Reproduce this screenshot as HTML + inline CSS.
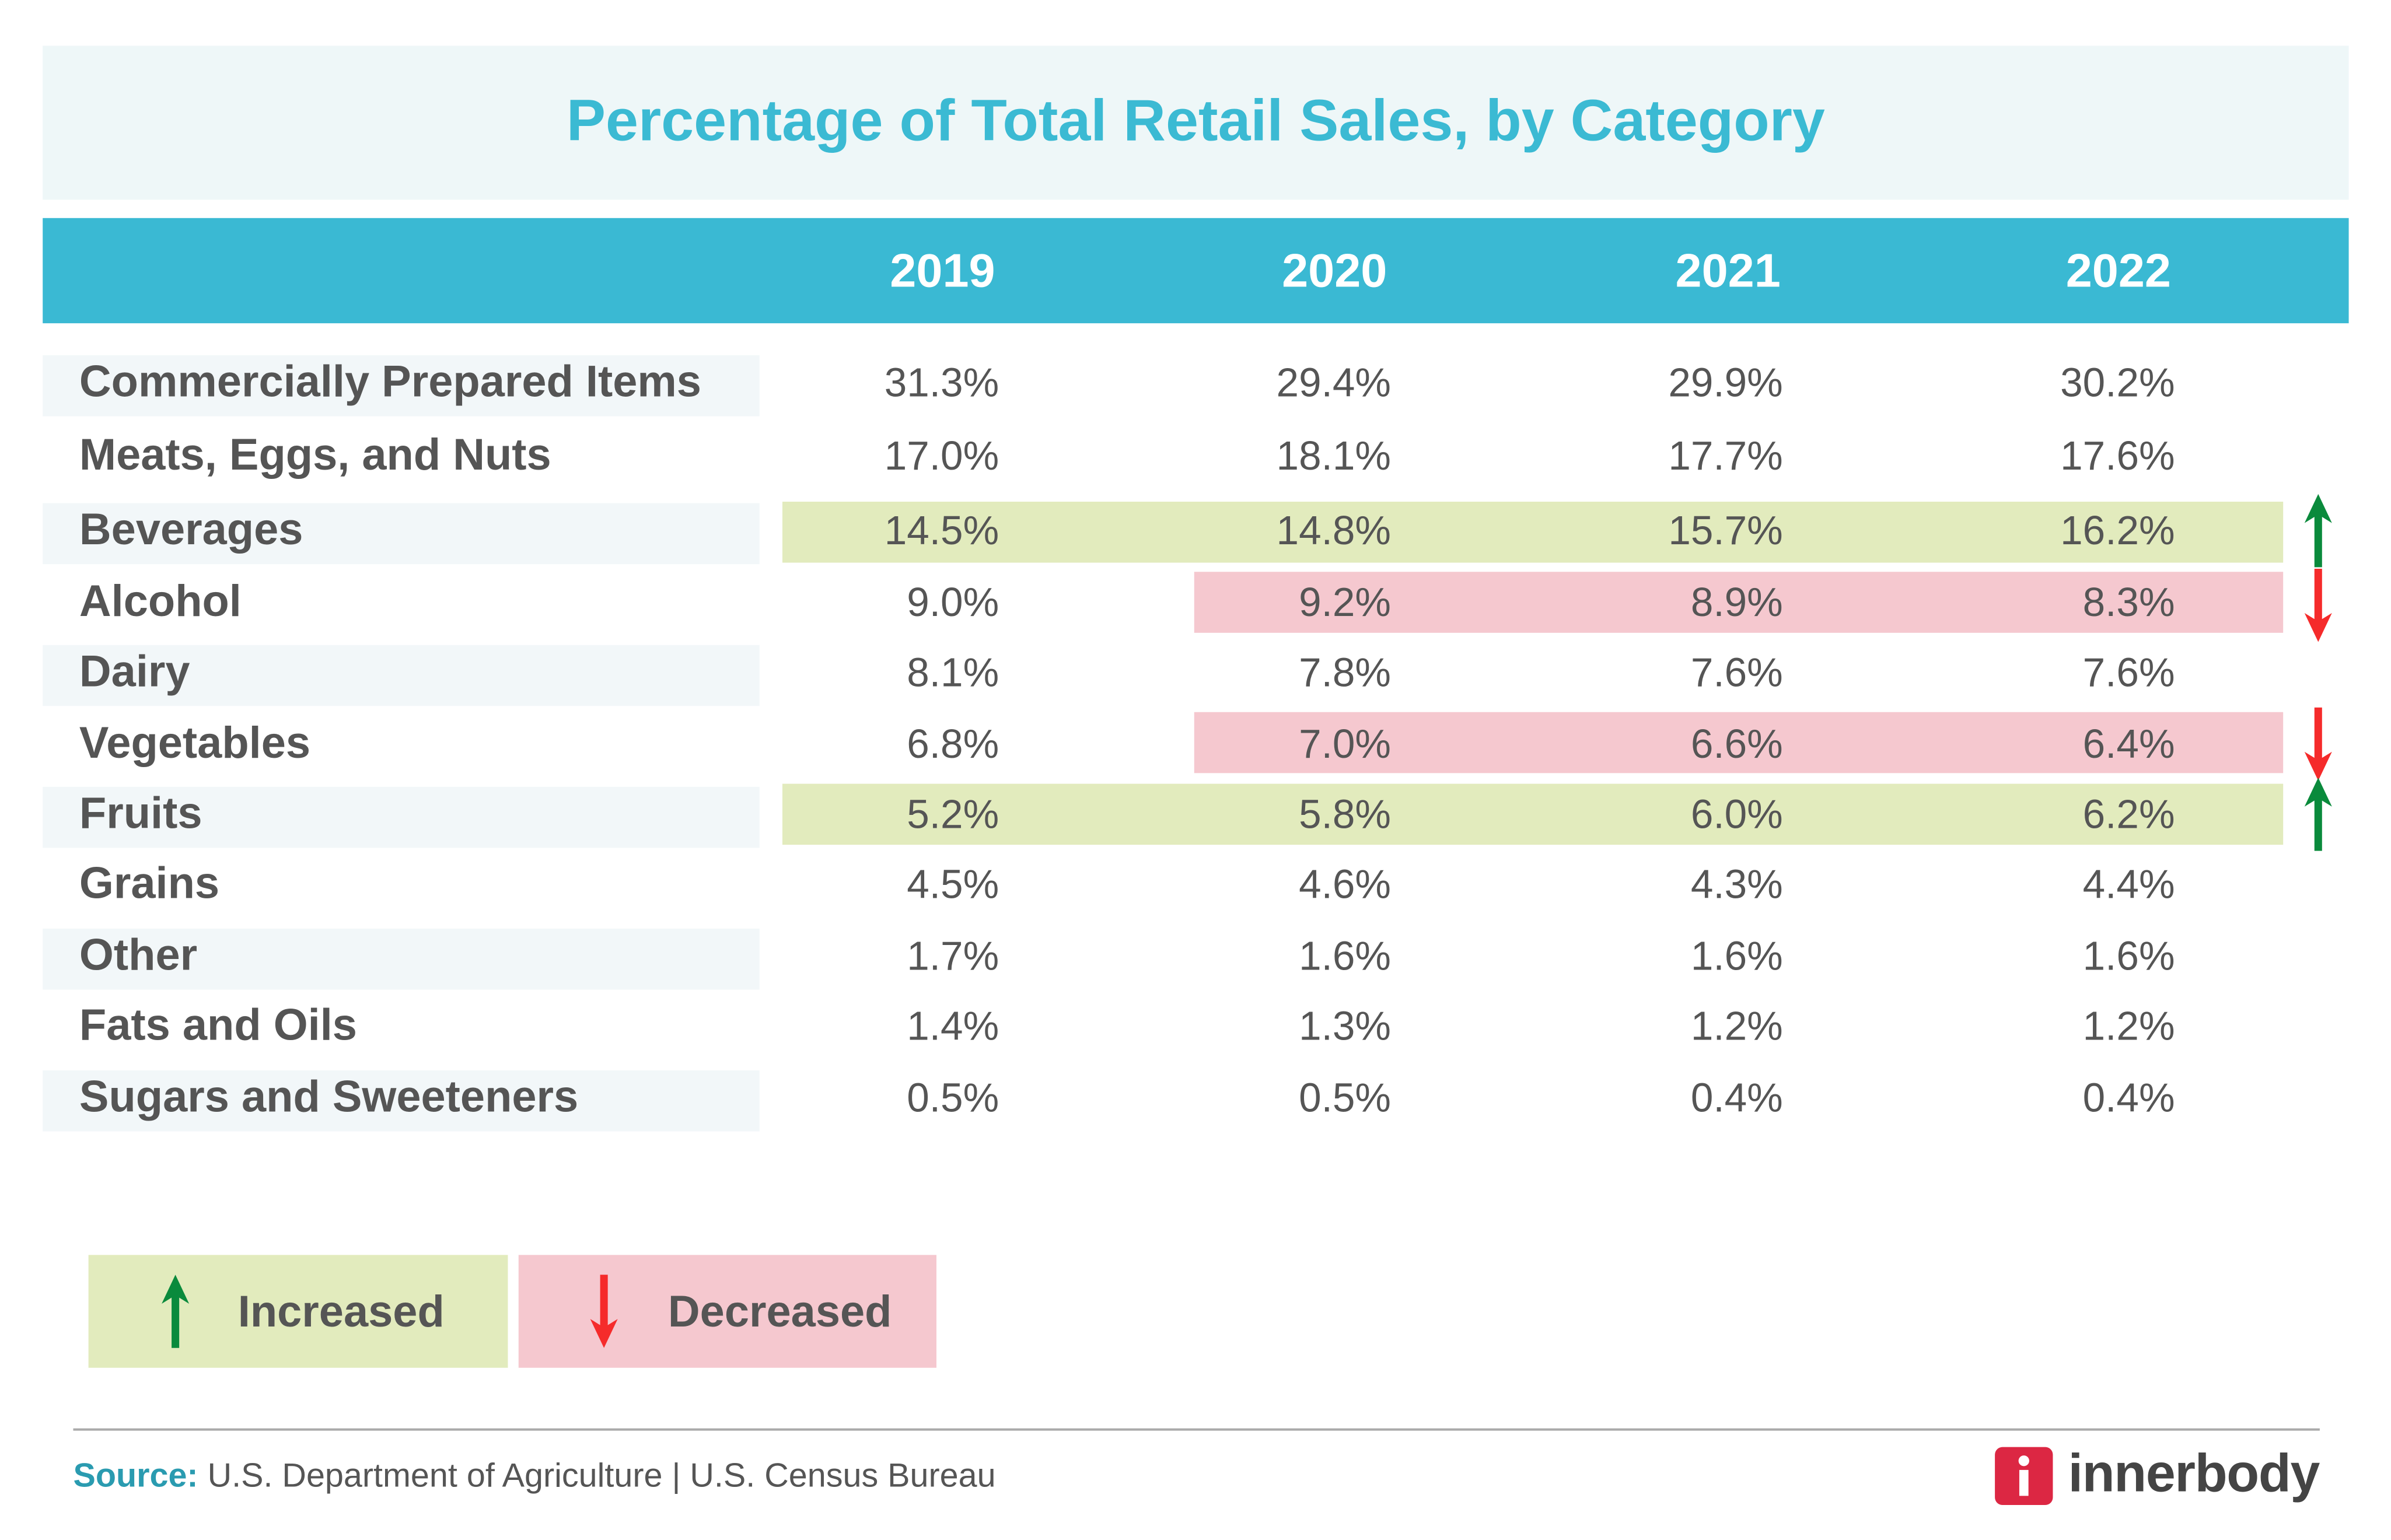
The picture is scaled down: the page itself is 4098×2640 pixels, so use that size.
<!DOCTYPE html>
<html><head><meta charset="utf-8"><style>
html,body{margin:0;padding:0;background:#fff;}
body{width:4098px;height:2636px;overflow:hidden;position:relative;}
#c{position:absolute;left:0;top:0;width:1570px;height:1010px;transform:scale(2.614);transform-origin:0 0;font-family:"Liberation Sans",sans-serif;}
.a{position:absolute;}
.lbl{position:absolute;left:52px;font-weight:bold;font-size:29px;color:#555;line-height:40px;}
.lb{position:absolute;left:28px;width:470px;height:40px;background:#f2f7f9;}
.v{position:absolute;width:120px;text-align:right;font-size:26.5px;color:#555;line-height:40px;}
.yr{position:absolute;top:158px;width:120px;text-align:center;color:#fff;font-weight:bold;font-size:31px;line-height:40px;}
</style></head><body><div id="c">
<div class="a" style="left:28px;top:30px;width:1512px;height:101px;background:#eef7f8;"></div>
<div class="a" style="left:28px;top:55px;width:1512px;text-align:center;color:#3bbad3;font-weight:bold;font-size:38.5px;line-height:50px;">Percentage of Total Retail Sales, by Category</div>
<div class="a" style="left:28px;top:143px;width:1512px;height:69px;background:#3ab9d3;"></div>
<div class="yr" style="left:558px">2019</div>
<div class="yr" style="left:815px">2020</div>
<div class="yr" style="left:1073px">2021</div>
<div class="yr" style="left:1329px">2022</div>

<div class="a" style="left:513px;top:329px;width:984px;height:40px;background:#e2ebbd;"></div>
<div class="a" style="left:513px;top:514px;width:984px;height:40px;background:#e2ebbd;"></div>
<div class="a" style="left:783px;top:375px;width:714px;height:40px;background:#f5c8cf;"></div>
<div class="a" style="left:783px;top:467px;width:714px;height:40px;background:#f5c8cf;"></div>

<div id="rows"></div>

<svg class="a" style="left:0;top:0" width="1560" height="1004">
<defs>
<g id="up"><path d="M0,-24 L-9,-5 L-2.5,-9 L-2.5,24 L2.5,24 L2.5,-9 L9,-5 Z"/></g>
<g id="dn"><path d="M0,24 L-9,5 L-2.5,9 L-2.5,-24 L2.5,-24 L2.5,9 L9,5 Z"/></g>
</defs>
<use href="#up" x="1520" y="348" fill="#0a8a3c"/>
<use href="#dn" x="1520" y="397" fill="#f52b2b"/>
<use href="#dn" x="1520" y="488" fill="#f52b2b"/>
<use href="#up" x="1520" y="534" fill="#0a8a3c"/>
<rect x="58" y="823" width="275" height="74" fill="#e2ebbd"/>
<rect x="340" y="823" width="274" height="74" fill="#f5c8cf"/>
<use href="#up" x="115" y="860" fill="#0a8a3c"/>
<use href="#dn" x="396" y="860" fill="#f52b2b"/>
<line x1="48" y1="937.5" x2="1521" y2="937.5" stroke="#aaa" stroke-width="1.5"/>
<rect x="1308" y="949" width="38" height="38" rx="5" fill="#dc2743"/>
<circle cx="1327" cy="958" r="3.5" fill="#fff"/>
<rect x="1324" y="964" width="6" height="17" fill="#fff"/>
</svg>
<div class="a" style="left:156px;top:841px;font-size:29px;font-weight:bold;color:#555;line-height:40px;">Increased</div>
<div class="a" style="left:438px;top:841px;font-size:29px;font-weight:bold;color:#555;line-height:40px;">Decreased</div>
<div class="a" style="left:48px;top:954px;font-size:22px;color:#555;line-height:28px;"><b style="color:#2a9bb0">Source:</b> U.S. Department of Agriculture | U.S. Census Bureau</div>
<div class="a" style="left:1356px;top:945px;font-size:35px;color:#444;line-height:44px;font-weight:bold;letter-spacing:-0.5px;">innerbody</div>
</div>
<script>
var d=[["Commercially Prepared Items","31.3%","29.4%","29.9%","30.2%",251],
["Meats, Eggs, and Nuts","17.0%","18.1%","17.7%","17.6%",299],
["Beverages","14.5%","14.8%","15.7%","16.2%",348],
["Alcohol","9.0%","9.2%","8.9%","8.3%",395],
["Dairy","8.1%","7.8%","7.6%","7.6%",441],
["Vegetables","6.8%","7.0%","6.6%","6.4%",488],
["Fruits","5.2%","5.8%","6.0%","6.2%",534],
["Grains","4.5%","4.6%","4.3%","4.4%",580],
["Other","1.7%","1.6%","1.6%","1.6%",627],
["Fats and Oils","1.4%","1.3%","1.2%","1.2%",673],
["Sugars and Sweeteners","0.5%","0.5%","0.4%","0.4%",720]];
var xs=[655,912,1169,1426],h="";
d.forEach(function(r,i){var t=r[5]-20;
if(i%2==0)h+='<div class="lb" style="top:'+(t+2)+'px"></div>';
h+='<div class="lbl" style="top:'+t+'px">'+r[0]+'</div>';
for(var k=0;k<4;k++)h+='<div class="v" style="left:'+(xs[k]-120)+'px;top:'+t+'px">'+r[k+1]+'</div>';});
var c=document.getElementById('rows');c.outerHTML=h;
</script>
</body></html>
